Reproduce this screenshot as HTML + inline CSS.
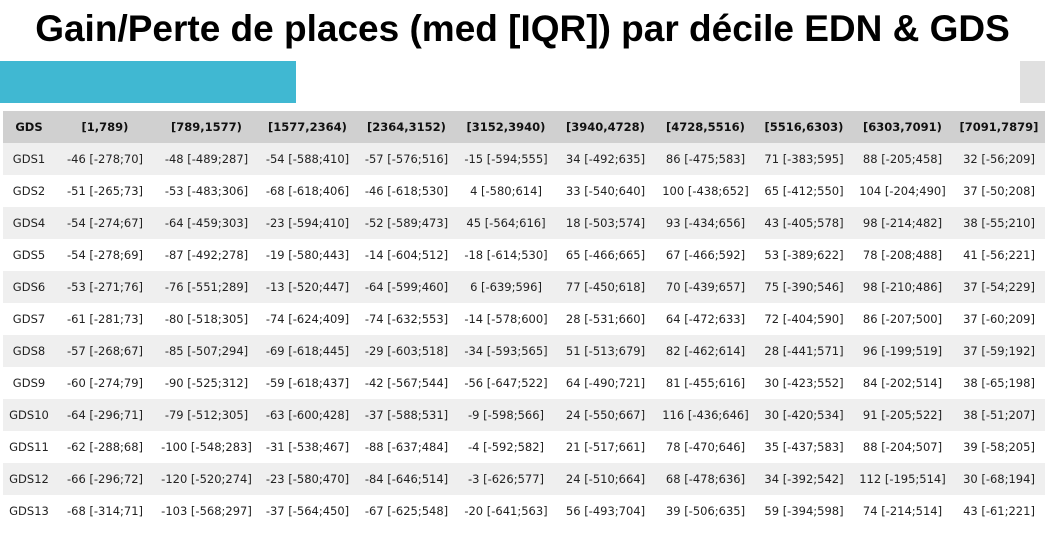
<!DOCTYPE html>
<html><head><meta charset="utf-8"><style>
body{margin:0;width:1045px;height:560px;background:#fff;position:relative;overflow:hidden}
h1{position:absolute;left:0;top:7px;width:1045px;margin:0;text-align:center;font:bold 37px "Liberation Sans",sans-serif;color:#000;line-height:44px}
.bar{position:absolute;left:0;top:61px;width:296px;height:42px;background:#40b8d2}
.gr{position:absolute;left:1020px;top:61px;width:25px;height:42px;background:#e0e0e0}
table{position:absolute;left:3px;top:111px;border-collapse:collapse;table-layout:fixed;width:1042px;font:11.5px "DejaVu Sans",sans-serif;color:#222}
td,th{text-align:center;padding:0;height:32px;white-space:nowrap;overflow:visible}
th{background:#d0d0d0;font-weight:bold;color:#111}
tr:nth-child(even) td{background:#efefef}
</style></head><body>
<h1>Gain/Perte de places (med [IQR]) par décile EDN &amp; GDS</h1>
<div class="bar"></div><div class="gr"></div>
<table>
<colgroup><col style="width:52px"><col style="width:100px"><col style="width:103px"><col style="width:99px"><col style="width:99px"><col style="width:100px"><col style="width:99px"><col style="width:101px"><col style="width:96px"><col style="width:101px"><col style="width:92px"></colgroup>
<tr><th>GDS</th><th>[1,789)</th><th>[789,1577)</th><th>[1577,2364)</th><th>[2364,3152)</th><th>[3152,3940)</th><th>[3940,4728)</th><th>[4728,5516)</th><th>[5516,6303)</th><th>[6303,7091)</th><th>[7091,7879]</th></tr>
<tr><td>GDS1</td><td>-46 [-278;70]</td><td>-48 [-489;287]</td><td>-54 [-588;410]</td><td>-57 [-576;516]</td><td>-15 [-594;555]</td><td>34 [-492;635]</td><td>86 [-475;583]</td><td>71 [-383;595]</td><td>88 [-205;458]</td><td>32 [-56;209]</td></tr>
<tr><td>GDS2</td><td>-51 [-265;73]</td><td>-53 [-483;306]</td><td>-68 [-618;406]</td><td>-46 [-618;530]</td><td>4 [-580;614]</td><td>33 [-540;640]</td><td>100 [-438;652]</td><td>65 [-412;550]</td><td>104 [-204;490]</td><td>37 [-50;208]</td></tr>
<tr><td>GDS4</td><td>-54 [-274;67]</td><td>-64 [-459;303]</td><td>-23 [-594;410]</td><td>-52 [-589;473]</td><td>45 [-564;616]</td><td>18 [-503;574]</td><td>93 [-434;656]</td><td>43 [-405;578]</td><td>98 [-214;482]</td><td>38 [-55;210]</td></tr>
<tr><td>GDS5</td><td>-54 [-278;69]</td><td>-87 [-492;278]</td><td>-19 [-580;443]</td><td>-14 [-604;512]</td><td>-18 [-614;530]</td><td>65 [-466;665]</td><td>67 [-466;592]</td><td>53 [-389;622]</td><td>78 [-208;488]</td><td>41 [-56;221]</td></tr>
<tr><td>GDS6</td><td>-53 [-271;76]</td><td>-76 [-551;289]</td><td>-13 [-520;447]</td><td>-64 [-599;460]</td><td>6 [-639;596]</td><td>77 [-450;618]</td><td>70 [-439;657]</td><td>75 [-390;546]</td><td>98 [-210;486]</td><td>37 [-54;229]</td></tr>
<tr><td>GDS7</td><td>-61 [-281;73]</td><td>-80 [-518;305]</td><td>-74 [-624;409]</td><td>-74 [-632;553]</td><td>-14 [-578;600]</td><td>28 [-531;660]</td><td>64 [-472;633]</td><td>72 [-404;590]</td><td>86 [-207;500]</td><td>37 [-60;209]</td></tr>
<tr><td>GDS8</td><td>-57 [-268;67]</td><td>-85 [-507;294]</td><td>-69 [-618;445]</td><td>-29 [-603;518]</td><td>-34 [-593;565]</td><td>51 [-513;679]</td><td>82 [-462;614]</td><td>28 [-441;571]</td><td>96 [-199;519]</td><td>37 [-59;192]</td></tr>
<tr><td>GDS9</td><td>-60 [-274;79]</td><td>-90 [-525;312]</td><td>-59 [-618;437]</td><td>-42 [-567;544]</td><td>-56 [-647;522]</td><td>64 [-490;721]</td><td>81 [-455;616]</td><td>30 [-423;552]</td><td>84 [-202;514]</td><td>38 [-65;198]</td></tr>
<tr><td>GDS10</td><td>-64 [-296;71]</td><td>-79 [-512;305]</td><td>-63 [-600;428]</td><td>-37 [-588;531]</td><td>-9 [-598;566]</td><td>24 [-550;667]</td><td>116 [-436;646]</td><td>30 [-420;534]</td><td>91 [-205;522]</td><td>38 [-51;207]</td></tr>
<tr><td>GDS11</td><td>-62 [-288;68]</td><td>-100 [-548;283]</td><td>-31 [-538;467]</td><td>-88 [-637;484]</td><td>-4 [-592;582]</td><td>21 [-517;661]</td><td>78 [-470;646]</td><td>35 [-437;583]</td><td>88 [-204;507]</td><td>39 [-58;205]</td></tr>
<tr><td>GDS12</td><td>-66 [-296;72]</td><td>-120 [-520;274]</td><td>-23 [-580;470]</td><td>-84 [-646;514]</td><td>-3 [-626;577]</td><td>24 [-510;664]</td><td>68 [-478;636]</td><td>34 [-392;542]</td><td>112 [-195;514]</td><td>30 [-68;194]</td></tr>
<tr><td>GDS13</td><td>-68 [-314;71]</td><td>-103 [-568;297]</td><td>-37 [-564;450]</td><td>-67 [-625;548]</td><td>-20 [-641;563]</td><td>56 [-493;704]</td><td>39 [-506;635]</td><td>59 [-394;598]</td><td>74 [-214;514]</td><td>43 [-61;221]</td></tr>
</table>
</body></html>
